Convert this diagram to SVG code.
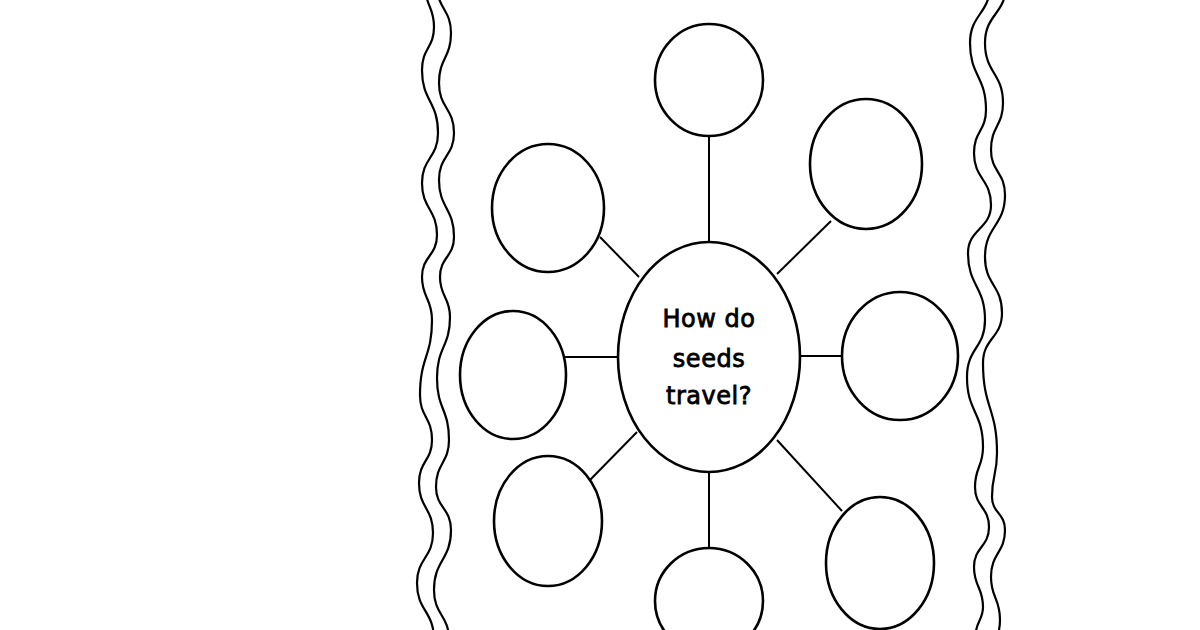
<svg xmlns="http://www.w3.org/2000/svg" width="1200" height="630" viewBox="0 0 1200 630">
<style>
.node ellipse{fill:#fff;stroke:#000;stroke-width:2.6}
.conn line{stroke:#000;stroke-width:2}
.wave path{fill:none;stroke:#000;stroke-width:2.2;stroke-linecap:round}
.lbl{font-family:"DejaVu Sans","Liberation Sans",sans-serif;font-size:24px;fill:#000;stroke:#000;stroke-width:0.8;text-anchor:middle;letter-spacing:0.5px}
</style>
<rect width="1200" height="630" fill="#fff"/>
<g class="wave">
<path d="M425,-15 C425,6 434,6 434,27 C434,48 422,48 422,70 C422,101 438,101 438,133 C438,158 422,158 422,183 C422,209 437,209 437,235 C437,256 422,256 422,277 C422,298 432,298 432,320 C432,357 420,357 420,395 C420,417 432,417 432,440 C432,461 419,461 419,483 C419,508 433,508 433,533 C433,558 417,558 417,583 C417,611 434,611 434,640"/>
<path d="M437,-15 C437,9 451,9 451,33 C451,58 439,58 439,83 C439,108 454,108 454,133 C454,156 439,156 439,180 C439,208 454,208 454,237 C454,257 440,257 440,277 C440,297 450,297 450,317 C450,347 437,347 437,378 C437,409 449,409 449,440 C449,463 436,463 436,487 C436,508 451,508 451,530 C451,560 434,560 434,590 C434,615 449,615 449,640"/>
<path d="M990,-15 C990,14 970,14 970,43 C970,76 986,76 986,110 C986,131 974,131 974,153 C974,179 991,179 991,205 C991,229 968,229 968,253 C968,286 985,286 985,320 C985,348 967,348 967,377 C967,412 983,412 983,447 C983,467 975,467 975,487 C975,507 989,507 989,527 C989,547 974,547 974,567 C974,587 983,587 983,607 C983,621 975,621 975,640"/>
<path d="M1006,-15 C1006,14 985,14 985,43 C985,73 1003,73 1003,103 C1003,126 991,126 991,150 C991,172 1005,172 1005,195 C1005,226 985,226 985,257 C985,285 1002,285 1002,313 C1002,338 983,338 983,363 C983,408 997,408 997,453 C997,475 992,475 992,497 C992,513 1005,513 1005,530 C1005,553 991,553 991,577 C991,598 1000,598 1000,620 C1000,630 998,630 998,640"/>
</g>
<g class="conn">
<line x1="709" y1="136" x2="709" y2="243"/>
<line x1="777" y1="274" x2="831" y2="221"/>
<line x1="799" y1="356" x2="843" y2="356"/>
<line x1="777" y1="440" x2="842" y2="511"/>
<line x1="709" y1="471" x2="709" y2="549"/>
<line x1="590" y1="480" x2="637" y2="432"/>
<line x1="565" y1="357" x2="619" y2="357"/>
<line x1="600" y1="237" x2="639" y2="277"/>
</g>
<g id="center" class="node">
<ellipse cx="709" cy="357" rx="91" ry="115"/>
<text class="lbl" x="709" y="327">How do</text>
<text class="lbl" x="709" y="367">seeds</text>
<text class="lbl" x="709" y="404">travel?</text>
</g>
<g id="n-top" class="node"><ellipse cx="709" cy="80" rx="54" ry="56"/></g>
<g id="n-topright" class="node"><ellipse cx="866" cy="164" rx="56" ry="65"/></g>
<g id="n-right" class="node"><ellipse cx="900" cy="356" rx="58" ry="64"/></g>
<g id="n-bottomright" class="node"><ellipse cx="880" cy="563" rx="54" ry="66"/></g>
<g id="n-bottom" class="node"><ellipse cx="709" cy="601" rx="54" ry="53"/></g>
<g id="n-bottomleft" class="node"><ellipse cx="548" cy="521" rx="54" ry="65"/></g>
<g id="n-left" class="node"><ellipse cx="513" cy="375" rx="53" ry="64"/></g>
<g id="n-topleft" class="node"><ellipse cx="548" cy="208" rx="56" ry="64"/></g>
</svg>
